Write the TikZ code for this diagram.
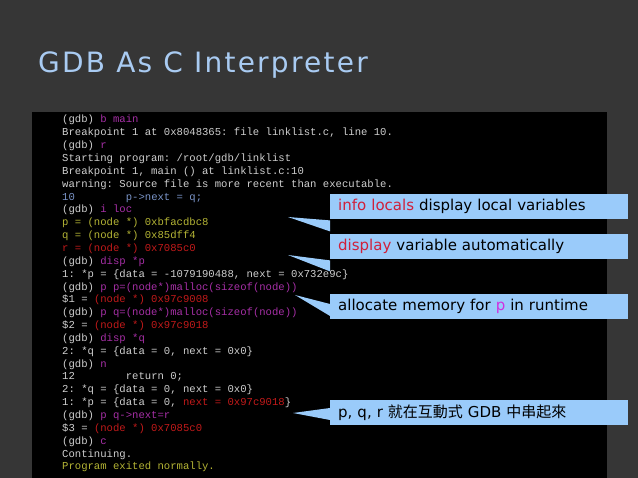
\documentclass[tikz,border=0pt]{standalone}
\usepackage{fontspec}
\setmainfont{DejaVu Sans}
\setmonofont{Liberation Mono}
\newfontfamily\cjk{Noto Sans CJK TC}
\newfontfamily\titlefont[LetterSpace=8]{DejaVu Sans}
\definecolor{bg}{HTML}{363636}
\definecolor{tt}{HTML}{CFCFCF}
\definecolor{cm}{HTML}{A62FA6}
\definecolor{yl}{HTML}{B5B535}
\definecolor{rd}{HTML}{C21A1A}
\definecolor{bl}{HTML}{7A94C8}
\definecolor{tl}{HTML}{A9CBF2}
\definecolor{cb}{HTML}{9ACBFA}
\definecolor{cr}{HTML}{D0203A}
\definecolor{cp}{HTML}{D030E0}
\newcommand{\gsp}[1]{\hspace*{#1\fontcharwd\font`x}}
\tikzset{
  ln/.style={anchor=base west, inner sep=0, font=\ttfamily\fontsize{10.6}{12}\selectfont, text=tt},
  callout/.style={fill=cb, draw=none, anchor=north west, minimum width=298pt, minimum height=25pt, inner sep=0pt, text=black, font=\fontsize{15}{18}\selectfont, text width=292pt, align=left},
  tail/.style={fill=cb, draw=none}
}
\begin{document}
\begin{tikzpicture}[x=1pt,y=-1pt]
\useasboundingbox (0,0) rectangle (638,478);
\fill[bg] (0,0) rectangle (638,478);
\fill[black] (32,112) rectangle (607,478);
\node[anchor=base west, inner sep=0, text=tl, font=\titlefont\fontsize{28}{32}\selectfont] (title) at (38,73) {GDB As C Interpreter};
\foreach \i/\t in {
 0/{(gdb) \textcolor{cm}{b main}},
 1/{Breakpoint 1 at 0x8048365: file linklist.c, line 10.},
 2/{(gdb) \textcolor{cm}{r}},
 3/{Starting program: /root/gdb/linklist},
 4/{Breakpoint 1, main () at linklist.c:10},
 5/{warning: Source file is more recent than executable.},
 6/{\textcolor{bl}{10\gsp{8}p->next = q;}},
 7/{(gdb) \textcolor{cm}{i loc}},
 8/{\textcolor{yl}{p = (node *) 0xbfacdbc8}},
 9/{\textcolor{yl}{q = (node *) 0x85dff4}},
 10/{\textcolor{rd}{r = (node *) 0x7085c0}},
 11/{(gdb) \textcolor{cm}{disp *p}},
 12/{1: *p = \{data = -1079190488, next = 0x732e9c\}},
 13/{(gdb) \textcolor{cm}{p p=(node*)malloc(sizeof(node))}},
 14/{\$1 = \textcolor{rd}{(node *) 0x97c9008}},
 15/{(gdb) \textcolor{cm}{p q=(node*)malloc(sizeof(node))}},
 16/{\$2 = \textcolor{rd}{(node *) 0x97c9018}},
 17/{(gdb) \textcolor{cm}{disp *q}},
 18/{2: *q = \{data = 0, next = 0x0\}},
 19/{(gdb) \textcolor{cm}{n}},
 20/{12\gsp{8}return 0;},
 21/{2: *q = \{data = 0, next = 0x0\}},
 22/{1: *p = \{data = 0, \textcolor{rd}{next = 0x97c9018}\}},
 23/{(gdb) \textcolor{cm}{p q->next=r}},
 24/{\$3 = \textcolor{rd}{(node *) 0x7085c0}},
 25/{(gdb) \textcolor{cm}{c}},
 26/{Continuing.},
 27/{\textcolor{yl}{Program exited normally.}}}
 { \node[ln] (l\i) at (62,{123+12.85*\i}) {\t}; }
% callouts
\node[callout] (c1) at (330,194) {\hspace*{5pt}\textcolor{cr}{info locals} display local variables};
\node[callout] (c2) at (330,234) {\hspace*{5pt}\textcolor{cr}{display} variable automatically};
\node[callout] (c3) at (330,294) {\hspace*{5pt}allocate memory for \textcolor{cp}{p} in runtime};
\node[callout] (c4) at (330,400) {\hspace*{5pt}p, q, r {\cjk 就在互動式} GDB {\cjk 中串起來}};
\coordinate (t1) at (288,217);
\coordinate (t2) at (288,255);
\coordinate (t3) at (295,295);
\coordinate (t4) at (293,413);
\fill[tail] (t1) -- ([yshift=-12pt]c1.south west) -- ([yshift=-1pt]c1.south west) -- cycle;
\fill[tail] (t2) -- ([yshift=-12pt]c2.south west) -- ([yshift=-1pt]c2.south west) -- cycle;
\fill[tail] (t3) -- ([yshift=-10pt]c3.north west) -- ([yshift=-22pt]c3.north west) -- cycle;
\fill[tail] (t4) -- ([yshift=-8pt]c4.north west) -- ([yshift=-20pt]c4.north west) -- cycle;
\end{tikzpicture}
\end{document}
